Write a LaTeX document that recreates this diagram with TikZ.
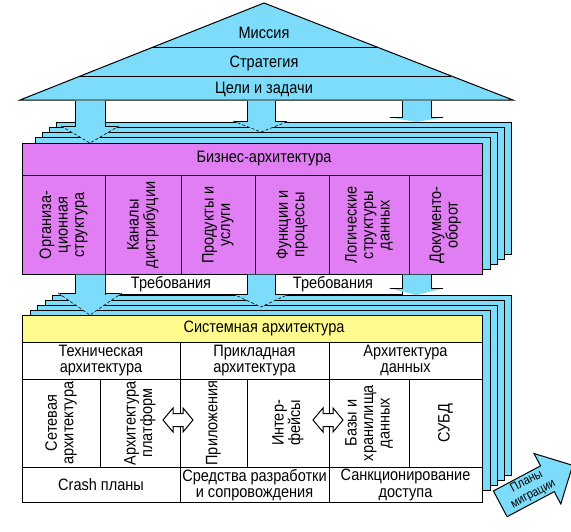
\documentclass[tikz,border=0pt]{standalone}
\usepackage{fontspec}
\setmainfont{Liberation Sans}[FakeStretch=0.88]
\usetikzlibrary{shapes.arrows}
\definecolor{cy}{RGB}{124,220,250}
\definecolor{pk}{RGB}{226,126,244}
\definecolor{ye}{RGB}{255,251,140}
\tikzset{
  lbl/.style={font=\fontsize{16.5}{16.5}\selectfont, align=center, inner sep=0pt},
  rlbl/.style={lbl, rotate=90},
  ol/.style={draw=black, line width=1pt},
  hd/.style={draw=black, line width=0.6pt, densely dashed},
}
\begin{document}
\begin{tikzpicture}[x=1pt,y=-1pt]
\useasboundingbox (0,0) rectangle (571,531);
% ---------- triangle ----------
\draw[ol, fill=cy, line join=miter] (20,100) -- (264,3) -- (513,100) -- cycle;
\draw[ol] (153,47) -- (377,47);
\draw[ol] (80,76) -- (451,76);
\node[lbl] (mission) at (264,33) {Миссия};
\node[lbl] (strategy) at (264,63) {Стратегия};
\node[lbl] (goals) at (264,89) {Цели и задачи};
% ---------- business stack ----------
\foreach \k in {4,3,2,1} {
  \draw[ol, fill=cy] ({35+7*(\k-1)},{142-5*\k}) rectangle ({483+7*\k},{274-5*\k});
}
% arrows triangle -> business
\fill[cy] (75,100.5) -- (75,126) -- (61,126) -- (90,143) -- (119,126) -- (105,126) -- (105,100.5) -- cycle;
\draw[ol] (75,100.5) -- (75,126) -- (63,126); \draw[ol] (105,100.5) -- (105,126) -- (117,126);
\draw[hd] (61,126) -- (90,143) -- (119,126);
\fill[cy] (247,100.5) -- (247,121) -- (233,121) -- (261,132) -- (289,121) -- (275,121) -- (275,100.5) -- cycle;
\draw[ol] (247,100.5) -- (247,121) -- (235,121); \draw[ol] (275,100.5) -- (275,121) -- (287,121);
\draw[hd] (233,121) -- (261,132) -- (289,121);
\fill[cy] (402,100.5) -- (402,117) -- (388,117) -- (416.5,122) -- (445,117) -- (431,117) -- (431,100.5) -- cycle;
\draw[ol] (402,100.5) -- (402,117) -- (390,117); \draw[ol] (431,100.5) -- (431,117) -- (443,117);
% ---------- business box ----------
\draw[ol, fill=pk] (22,143) rectangle (482,274);
\draw[ol] (22,175) -- (482,175);
\foreach \x in {105,181,255,329,409} { \draw[ol] (\x,175) -- (\x,274); }
\node[lbl] (bus) at (264,159) {Бизнес-архитектура};
\node[rlbl] (b1) at (63.5,225) {Организа-\\ционная\\структура};
\node[rlbl] (b2) at (143,225) {Каналы\\дистрибуции};
\node[rlbl] (b3) at (218,225) {Продукты и\\услуги};
\node[rlbl] (b4) at (292,225) {Функции и\\процессы};
\node[rlbl] (b5) at (369,225) {Логические\\структуры\\данных};
\node[rlbl] (b6) at (445.5,225) {Документо-\\оборот};
% requirement boxes
\draw[ol, fill=white] (105,274) rectangle (247,294);
\draw[ol, fill=white] (275,274) rectangle (402,294);
\node[lbl] (req1) at (171,284) {Требования};
\node[lbl] (req2) at (333,284) {Требования};
% ---------- system stack ----------
\foreach \k in {4,3,2,1} {
  \draw[ol, fill=cy] ({30+7.5*(\k-1)},{315-5*\k}) rectangle ({483+7*\k},{495-5*\k});
}
% arrows business -> system
\fill[cy] (75,274.5) -- (75,293) -- (58,293) -- (90,315) -- (122,293) -- (105,293) -- (105,274.5) -- cycle;
\draw[ol] (75,274.5) -- (75,293) -- (60,293); \draw[ol] (105,294.5) -- (105,293) -- (120,293);
\draw[hd] (58,293) -- (90,315) -- (122,293);
\fill[cy] (247,274.5) -- (247,294) -- (233,294) -- (261,307) -- (289,294) -- (275,294) -- (275,274.5) -- cycle;
\draw[ol] (247,274.5) -- (247,294) -- (235,294); \draw[ol] (275,274.5) -- (275,294) -- (287,294);
\draw[hd] (233,294) -- (261,307) -- (289,294);
\fill[cy] (402,274.5) -- (402,288) -- (388,288) -- (416.5,295) -- (445,288) -- (431,288) -- (431,274.5) -- cycle;
\draw[ol] (402,274.5) -- (402,288) -- (390,288); \draw[ol] (431,274.5) -- (431,288) -- (443,288);
% ---------- system box ----------
\draw[ol, fill=white] (22,315) rectangle (482,502);
\draw[ol, fill=ye] (22,315) rectangle (482,342);
\draw[ol] (22,379) -- (482,379);
\draw[ol] (22,467) -- (482,467);
\draw[ol] (180,342) -- (180,502);
\draw[ol] (329,342) -- (329,502);
\foreach \x in {100,247,409} { \draw[ol] (\x,379) -- (\x,467); }
\node[lbl] (sys) at (264,328.5) {Системная архитектура};
\node[lbl] (tech) at (101,360.5) {Техническая\\архитектура};
\node[lbl] (appl) at (254.5,360.5) {Прикладная\\архитектура};
\node[lbl] (data) at (405.5,360.5) {Архитектура\\данных};
\node[rlbl] (s1) at (61,423) {Сетевая\\архитектура};
\node[rlbl] (s2) at (140,423) {Архитектура\\платформ};
\node[rlbl] (s3) at (213.5,423) {Приложения};
\node[rlbl] (s4) at (288,423) {Интер-\\фейсы};
\node[rlbl] (s5) at (369,423) {Базы и\\хранилища\\данных};
\node[rlbl] (s6) at (445.5,423) {СУБД};
\node[lbl] (crash) at (101,485) {Crash планы};
\node[lbl] (tools) at (254.5,485) {Средства разработки\\и сопровождения};
\node[lbl] (access) at (405.5,485) {Санкционирование\\доступа};
% double arrows
\foreach \cx in {178,328} {
  \draw[ol, fill=white, line join=miter] ({\cx-15},420) -- ({\cx-5},408) -- ({\cx-5},413.5) -- ({\cx+5},413.5) -- ({\cx+5},408)
     -- ({\cx+15},420) -- ({\cx+5},432) -- ({\cx+5},426.5) -- ({\cx-5},426.5) -- ({\cx-5},432) -- cycle;
}
% migration plans arrow
\node[single arrow, ol, fill=cy, rotate=28, minimum height=82pt, single arrow head extend=14pt,
      inner sep=1.5pt, font=\fontsize{12.5}{14}\selectfont, align=center] (plans) at (530,488) {Планы\\миграции};
\end{tikzpicture}
\end{document}
